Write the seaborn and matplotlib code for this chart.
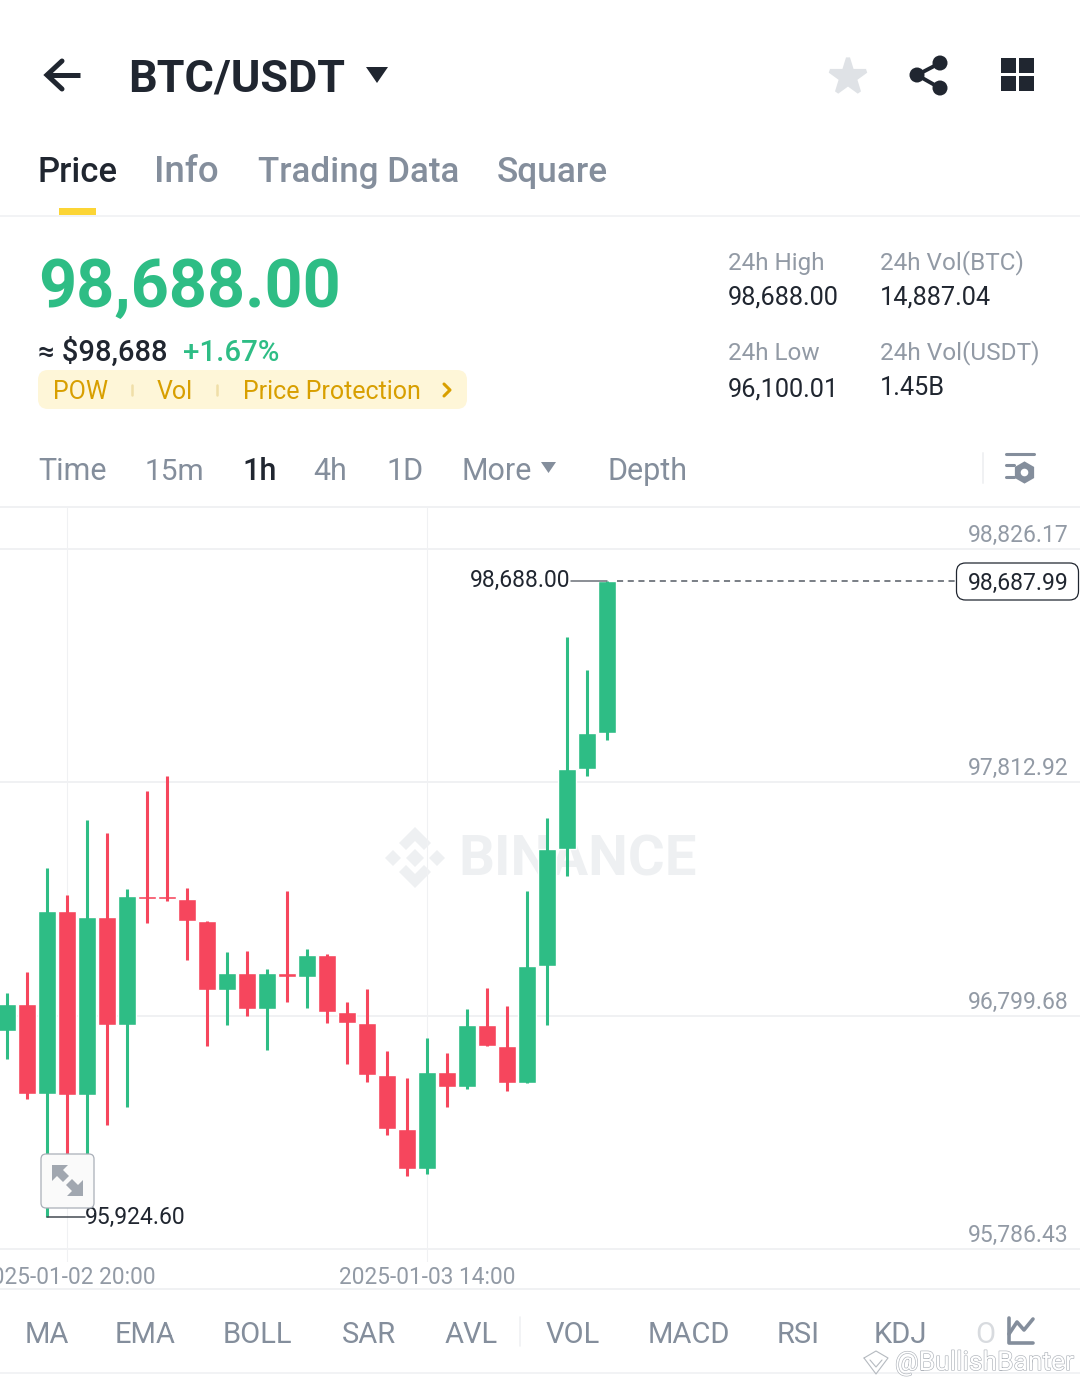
import matplotlib
matplotlib.use("Agg")
import matplotlib.pyplot as plt
import matplotlib.patheffects as pe
from matplotlib.patches import FancyBboxPatch, Polygon, Rectangle, Circle
from matplotlib.transforms import Affine2D
import pandas as pd
import seaborn as sns

# candles, one per hour
opens = [96733, 96850, 96459, 97254, 96455, 97228, 96759, 97321, 97319, 97306, 97211,
         96911, 96985, 96828, 96985, 96967, 97063, 96815, 96768, 96542, 96307, 96134,
         96555, 96490, 96759, 96668, 96507, 97015, 97523, 97871, 98027]
closes = [96850, 96459, 97254, 96455, 97228, 96759, 97319, 97308, 97306, 97211, 96911,
          96985, 96828, 96985, 96967, 97063, 96815, 96768, 96542, 96307, 96134, 96555,
          96490, 96759, 96668, 96507, 97015, 97523, 97871, 98027, 98688]
highs = [96898, 96989, 97441, 97324, 97649, 97593, 97350, 97775, 97840, 97354, 97211,
         97076, 97080, 97002, 97341, 97089, 97067, 96859, 96915, 96646, 96529, 96703,
         96637, 96828, 96920, 96841, 97341, 97658, 98444, 98301, 98688]
lows = [96611, 96438, 95924.6, 96173, 96173, 96325, 96403, 97202, 97298, 97041, 96668,
        96759, 96798, 96650, 96859, 96833, 96768, 96590, 96511, 96281, 96103, 96112,
        96403, 96481, 96668, 96472, 96507, 96759, 97406, 97840, 97997]

y_ticks = [98826.17, 97812.92, 96799.68, 95786.43]
y_tick_labels = ["98,826.17", "97,812.92", "96,799.68", "95,786.43"]
x_ticks = [3, 21]
x_tick_labels = ["2025-01-02 20:00", "2025-01-03 14:00"]
last_price = 98687.99
max_price = 98688.00
min_price = 95924.60

GREEN = "#2EBD85"
RED = "#F6465D"
DARK = "#202630"
GRAY = "#848E9C"
LABEL = "#929AA5"
LINE = "#F0F1F3"
GOLD = "#D89F00"

W, H = 1080, 1384

sns.set_theme(style="white")
plt.rcParams["font.family"] = ["Roboto", "DejaVu Sans"]

fig = plt.figure(figsize=(W / 100, H / 100), dpi=100, facecolor="white")


def pixel_axes(zorder):
    a = fig.add_axes([0, 0, 1, 1], zorder=zorder)
    a.set_xlim(0, W)
    a.set_ylim(H, 0)
    a.axis("off")
    return a


bg = pixel_axes(0)
ui = pixel_axes(2)


def tx(x, y, s, size, color=GRAY, weight="normal", ha="left", target=None, **kw):
    return (target or ui).text(x, y, s, fontsize=size, color=color, weight=weight,
                               ha=ha, va="baseline", **kw)


# --- chart
top_px, bottom_px = 507, 1262
per_px = (y_ticks[0] - y_ticks[3]) / (1249 - 549)
ax = fig.add_axes([0, 1 - bottom_px / H, 1, (bottom_px - top_px) / H], zorder=1)
ax.patch.set_alpha(0)

df = pd.DataFrame({"idx": range(len(opens)), "open": opens, "close": closes,
                   "high": highs, "low": lows})
df["dir"] = ["up" if c > o else "down" for o, c in zip(opens, closes)]
df["body"] = (df["close"] - df["open"]).abs()
df["base"] = df[["open", "close"]].min(axis=1)
palette = {"up": GREEN, "down": RED}

wicks = df.melt(id_vars=["idx", "dir"], value_vars=["high", "low"], value_name="price")
sns.lineplot(data=wicks, x="idx", y="price", hue="dir", units="idx", estimator=None,
             palette=palette, lw=2.2, legend=False, ax=ax, solid_capstyle="butt")
for name, sub in df.groupby("dir"):
    sns.barplot(data=sub, x="idx", y="body", color=palette[name], native_scale=True,
                width=0.88, saturation=1, errorbar=None,
                bottom=sub["base"].values, ax=ax)

ax.set_xlim(-0.35, (W - 7) / 20)
ax.set_ylim(y_ticks[0] - (bottom_px - 549) * per_px, y_ticks[0] + (549 - top_px) * per_px)
ax.set_xlabel("")
ax.set_ylabel("")
ax.set_xticks(x_ticks, x_tick_labels)
ax.set_yticks(y_ticks, y_tick_labels)
ax.grid(True, axis="y", color=LINE, lw=1.4)
ax.grid(True, axis="x", color=LINE, lw=0.8)
ax.set_axisbelow(True)
for s in ax.spines.values():
    s.set_visible(False)
ax.tick_params(axis="x", length=0, pad=3, labelsize=16.3, labelcolor=LABEL)
ax.tick_params(axis="y", length=0, pad=-8.5, labelsize=16.5, labelcolor=LABEL,
               labelleft=False, labelright=True)
for t in ax.get_yticklabels():
    t.set_ha("right")
    t.set_va("bottom")
    t.set_transform(t.get_transform() + Affine2D().translate(0, 2))

# last price line and the max / min marks
ax.plot([30.5, 47.4], [last_price, last_price], color="#555B64", lw=1.1, ls=(0, (4, 3)))
ax.plot([28.2, 30], [max_price, max_price], color="#6B7078", lw=1.1)
ax.plot([2, 3.9], [min_price, min_price], color="#444A52", lw=1.1)
ax.annotate("98,688.00", (28.15, max_price), ha="right", va="center", fontsize=16.5, color=DARK)
ax.annotate("95,924.60", (3.9, min_price), ha="left", va="center", fontsize=16.5, color=DARK)

# --- watermark under the candles
WM = "#EEF0F2"
for pts in [[(415, 827), (431, 843), (424, 850), (415, 841), (406, 850), (399, 843)],
            [(415, 888), (431, 872), (424, 865), (415, 874), (406, 865), (399, 872)],
            [(415, 849), (424, 858), (415, 867), (406, 858)],
            [(393, 850), (401, 858), (393, 866), (385, 858)],
            [(437, 850), (445, 858), (437, 866), (429, 858)]]:
    bg.add_patch(Polygon(pts, closed=True, color=WM, lw=0))
tx(458, 876, "BINANCE", 40.5, WM, "bold", target=bg)

# --- header
ui.plot([80, 47], [75, 75], color=DARK, lw=3.6, solid_capstyle="butt")
ui.plot([62, 47, 62], [61, 75, 89], color=DARK, lw=3.6, solid_joinstyle="miter")
tx(128, 92, "BTC/USDT", 32.4, DARK, "bold")
ui.add_patch(Polygon([(366, 67), (388, 67), (377, 83)], closed=True, color=DARK, lw=0))
ui.plot([848], [77], marker="*", ms=27, color="#DFE2E6", mec="#DFE2E6", mew=3)
for cx, cy in [(917, 75), (940, 63), (940, 88)]:
    ui.add_patch(Circle((cx, cy), 7.5, color=DARK, lw=0))
ui.plot([940, 917, 940], [63, 75, 88], color=DARK, lw=2.8)
for gx in (1001, 1019):
    for gy in (58, 76):
        ui.add_patch(Rectangle((gx, gy), 14.5, 15, color=DARK, lw=0))

tx(37.5, 182, "Price", 25, DARK, "medium")
tx(154, 182, "Info", 26.5, GRAY, "medium")
tx(258, 182, "Trading Data", 25.2, GRAY, "medium")
tx(497, 182, "Square", 25.4, GRAY, "medium")
ui.add_patch(Rectangle((59, 208), 37, 7, color="#FCD535", lw=0))
ui.plot([0, W], [215.5, 215.5], color=LINE, lw=1.2)

tx(38, 307, "98,688.00", 48, GREEN, "bold")
tx(38, 361, "≈ $98,688", 21, DARK, "medium")
tx(183, 361, "+1.67%", 21.2, GREEN, "medium")
ui.add_patch(FancyBboxPatch((38, 370), 429, 39, boxstyle="round,pad=0,rounding_size=10",
                            lw=0, fc="#FEF6D8"))
tx(53, 399, "POW", 18, GOLD)
tx(157, 399, "Vol", 18, GOLD)
tx(243, 399, "Price Protection", 18, GOLD)
for sx in (132, 217):
    ui.plot([sx, sx], [385, 395], color="#F0DFA8", lw=1.8)
ui.plot([444, 450, 444], [384, 390, 396], color=GOLD, lw=2.2)

tx(728, 270, "24h High", 17.5, LABEL)
tx(728, 305, "98,688.00", 18.2, DARK)
tx(728, 360, "24h Low", 17.5, LABEL)
tx(728, 396, "96,100.01", 18.2, DARK)
tx(880, 269, "24h Vol(BTC)", 17.5, LABEL)
tx(880, 305, "14,887.04", 18.2, DARK)
tx(880, 359, "24h Vol(USDT)", 17.6, LABEL)
tx(880, 395, "1.45B", 18.2, DARK)

# --- timeframe row
tx(38, 480, "Time", 22)
tx(145, 480, "15m", 21.5)
tx(242, 480, "1h", 22, DARK, "medium")
tx(313, 480, "4h", 22)
tx(386, 480, "1D", 22)
tx(461, 480, "More", 22)
ui.add_patch(Polygon([(541, 462), (556, 462), (548.5, 473)], closed=True, color=GRAY, lw=0))
tx(607, 480, "Depth", 22)
ui.plot([983, 983], [453, 483], color=LINE, lw=1.4)
ui.plot([1006, 1034], [454, 454], color=GRAY, lw=2.2)
ui.plot([1006, 1014], [465, 465], color=GRAY, lw=2.2)
ui.plot([1006, 1014], [477, 477], color=GRAY, lw=2.2)
ui.plot([1024], [472], marker="h", ms=16, color=GRAY, mew=0)
ui.plot([1024], [472], marker="o", ms=5.5, color="white", mew=0)
ui.plot([0, W], [506.5, 506.5], color=LINE, lw=1.4)

# --- price pill and expand button
ui.add_patch(FancyBboxPatch((956.5, 563), 122, 37, boxstyle="round,pad=0,rounding_size=9",
                            fc="white", ec="#202630", lw=0.9))
tx(1018, 590, "98,687.99", 16.5, DARK, ha="center")
ui.add_patch(FancyBboxPatch((41, 1154), 53, 54, boxstyle="round,pad=0,rounding_size=5",
                            fc="#FAFAFA", ec="#A9AFB8", lw=0.9))
ui.add_patch(Polygon([(52, 1165), (68, 1165), (63, 1170), (69, 1176), (63, 1182), (57, 1176), (52, 1181)],
                     closed=True, color="#A1A7B0", lw=0))
ui.add_patch(Polygon([(83, 1196), (67, 1196), (72, 1191), (66, 1185), (72, 1179), (78, 1185), (83, 1180)],
                     closed=True, color="#A1A7B0", lw=0))

# --- indicator row
ui.plot([0, W], [1289, 1289], color=LINE, lw=1.4)
for x0, name in [(25, "MA"), (115, "EMA"), (223, "BOLL"), (342, "SAR"), (445, "AVL"),
                 (546, "VOL"), (648, "MACD"), (777, "RSI"), (874, "KDJ")]:
    tx(x0, 1343, name, 21)
tx(975, 1343, "O", 21, "#D8DBDF")
ui.plot([520, 520], [1317, 1346], color=LINE, lw=1.2)
ui.plot([1009, 1009, 1033], [1318, 1343, 1343], color=GRAY, lw=2.6)
ui.plot([1009, 1017, 1024, 1033], [1334, 1322, 1330, 1319], color=GRAY, lw=2.6)
ui.plot([0, W], [1373, 1373], color=LINE, lw=1.2)

stroke = [pe.withStroke(linewidth=0.9, foreground="#AEB3BA")]
tx(895, 1370, "@BullishBanter", 19, "white", path_effects=stroke)
ui.plot([864, 876, 888, 876, 864], [1358, 1374, 1358, 1351, 1358], color="#B5BAC0", lw=0.8)
ui.plot([870, 876, 882], [1360, 1367, 1360], color="#B5BAC0", lw=0.8)

fig.savefig("out.png", dpi=100)
